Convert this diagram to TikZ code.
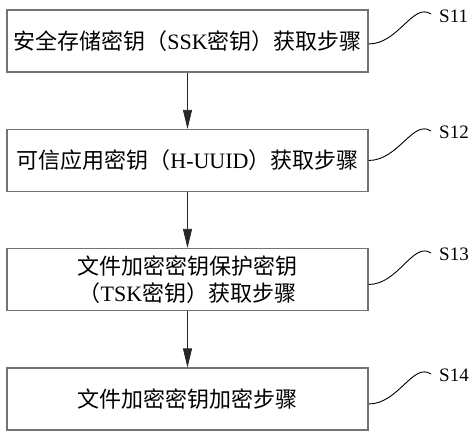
\documentclass[tikz,border=0pt]{standalone}
\usepackage{fontspec}
\setmainfont{Liberation Serif}
\newfontfamily\cjk{Noto Sans CJK SC}
\usetikzlibrary{arrows.meta}
\tikzset{
  stepbox/.style={draw=black!55, line width=1.1pt, minimum width=361pt, minimum height=62pt,
    inner sep=0pt, align=center, font=\fontsize{22}{27}\selectfont},
  flow/.style={draw=black!85, line width=0.7pt, -{Triangle[width=9pt,length=19pt]}},
  steplabel/.style={anchor=west, inner sep=0pt, font=\fontsize{19}{22}\selectfont},
  lead/.style={draw=black, line width=0.9pt}
}
\begin{document}
\begin{tikzpicture}[x=1pt,y=-1pt]
\useasboundingbox (0,0) rectangle (474,438);
\node[stepbox] (b1) at (187.5,41) {{\cjk 安全存储密钥（}SSK{\cjk 密钥）获取步骤}};
\node[stepbox] (b2) at (187.5,160.5) {{\cjk 可信应用密钥（}H-UUID{\cjk ）获取步骤}};
\node[stepbox] (b3) at (187.5,279.5) {{\cjk 文件加密密钥保护密钥}\\{\cjk （}TSK{\cjk 密钥）获取步骤}};
\node[stepbox] (b4) at (187.5,399) {{\cjk 文件加密密钥加密步骤}};
\draw[flow] (b1) -- (b2);
\draw[flow] (b2) -- (b3);
\draw[flow] (b3) -- (b4);
\node[steplabel] (s1) at (439,16) {S11};
\node[steplabel] (s2) at (439,132) {S12};
\node[steplabel] (s3) at (439,254) {S13};
\node[steplabel] (s4) at (439,375) {S14};
\draw[lead] ([yshift=-3pt]b1.east) .. controls +(30,0) and +(-18,-12) .. ([xshift=-8pt,yshift=2pt]s1.west);
\draw[lead] ([yshift=0pt]b2.east) .. controls +(30,0) and +(-18,-12) .. ([xshift=-8pt,yshift=1pt]s2.west);
\draw[lead] ([yshift=-5pt]b3.east) .. controls +(30,0) and +(-18,-12) .. ([xshift=-8pt,yshift=1pt]s3.west);
\draw[lead] ([yshift=-5pt]b4.east) .. controls +(30,0) and +(-18,-12) .. ([xshift=-8pt,yshift=1pt]s4.west);
\end{tikzpicture}
\end{document}
